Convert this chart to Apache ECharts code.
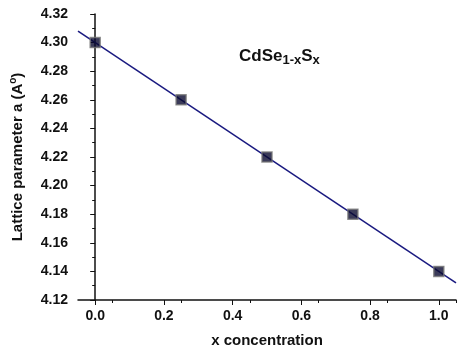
<!DOCTYPE html>
<html><head><meta charset="utf-8">
<script src="https://cdn.jsdelivr.net/npm/echarts@6/dist/echarts.min.js"></script>
<style>html,body{margin:0;padding:0;background:#fff}#c{width:474px;height:353px}</style>
</head><body><div id="c"></div>
<script>
var xValues = [0.0, 0.25, 0.5, 0.75, 1.0];
var latticeValues = [4.30, 4.26, 4.22, 4.18, 4.14];
var fitRange = [-0.05, 1.05];
var xTickValues = [0.0, 0.2, 0.4, 0.6, 0.8, 1.0];

// least-squares fit of the data
var n = xValues.length, sx = 0, sy = 0, sxx = 0, sxy = 0;
for (var i = 0; i < n; i++) { sx += xValues[i]; sy += latticeValues[i]; sxx += xValues[i]*xValues[i]; sxy += xValues[i]*latticeValues[i]; }
var slope = (n*sxy - sx*sy)/(n*sxx - sx*sx);
var intercept = (sy - slope*sx)/n;
var fitData = fitRange.map(function(x){ return [x, intercept + slope*x]; });
var points = xValues.map(function(x, i){ return [x, latticeValues[i]]; });

var font = 'Liberation Sans, Arial, sans-serif';
var chart = echarts.init(document.getElementById('c'));
chart.setOption({
  animation: false,
  grid: { left: 73, right: 18, top: 14, bottom: 53 },
  title: {
    text: '{m|CdSe}{s|1-x}{m|S}{s|x}',
    left: 234, top: 40,
    textStyle: { rich: {
      m: { fontFamily: font, fontWeight: 'bold', fontSize: 17, color: '#111' },
      s: { fontFamily: font, fontWeight: 'bold', fontSize: 13, color: '#111', padding: [9,0,0,0] }
    } }
  },
  xAxis: {
    type: 'value', min: -0.05, max: 1.05, interval: 0.2,
    name: 'x concentration', nameLocation: 'middle', nameGap: 33,
    nameTextStyle: { fontFamily: font, fontWeight: 'bold', fontSize: 15, color: '#111' },
    axisLine: { onZero: false, lineStyle: { color: '#111', width: 1.5 } },
    axisTick: { show: true, length: 5, inside: false, lineStyle: { color: '#111' }, customValues: xTickValues },
    minorTick: { show: true, splitNumber: 2, length: 3, lineStyle: { color: '#111' } },
    axisLabel: { fontFamily: font, fontWeight: 'bold', fontSize: 14, color: '#111', margin: 9,
      customValues: xTickValues,
      formatter: function(v){ return v.toFixed(1); } },
    splitLine: { show: false }
  },
  yAxis: {
    type: 'value', min: 4.12, max: 4.32, interval: 0.02,
    name: '{a|Lattice parameter a (A}{o|o}{a|)}', nameLocation: 'middle', nameGap: 51, nameRotate: 90,
    nameTextStyle: { rich: {
      a: { fontFamily: font, fontWeight: 'bold', fontSize: 15, color: '#111' },
      o: { fontFamily: font, fontWeight: 'bold', fontSize: 10, color: '#111', padding: [0,0,9,0] }
    } },
    axisLine: { show: true, lineStyle: { color: '#111', width: 1.5 } },
    axisTick: { show: true, length: 5, lineStyle: { color: '#111' } },
    minorTick: { show: true, splitNumber: 2, length: 3, lineStyle: { color: '#111' } },
    axisLabel: { fontFamily: font, fontWeight: 'bold', fontSize: 14, color: '#111', margin: 10,
      formatter: function(v){ return v.toFixed(2); } },
    splitLine: { show: false }
  },
  series: [
    { type: 'line', data: fitData, symbol: 'none', lineStyle: { color: '#1a1a80', width: 1.5 }, z: 2 },
    { type: 'scatter', data: points, symbol: 'rect', symbolSize: 10,
      itemStyle: { color: '#0a0a30', borderColor: '#777', borderWidth: 1.5 }, z: 3 }
  ]
});
</script></body></html>
